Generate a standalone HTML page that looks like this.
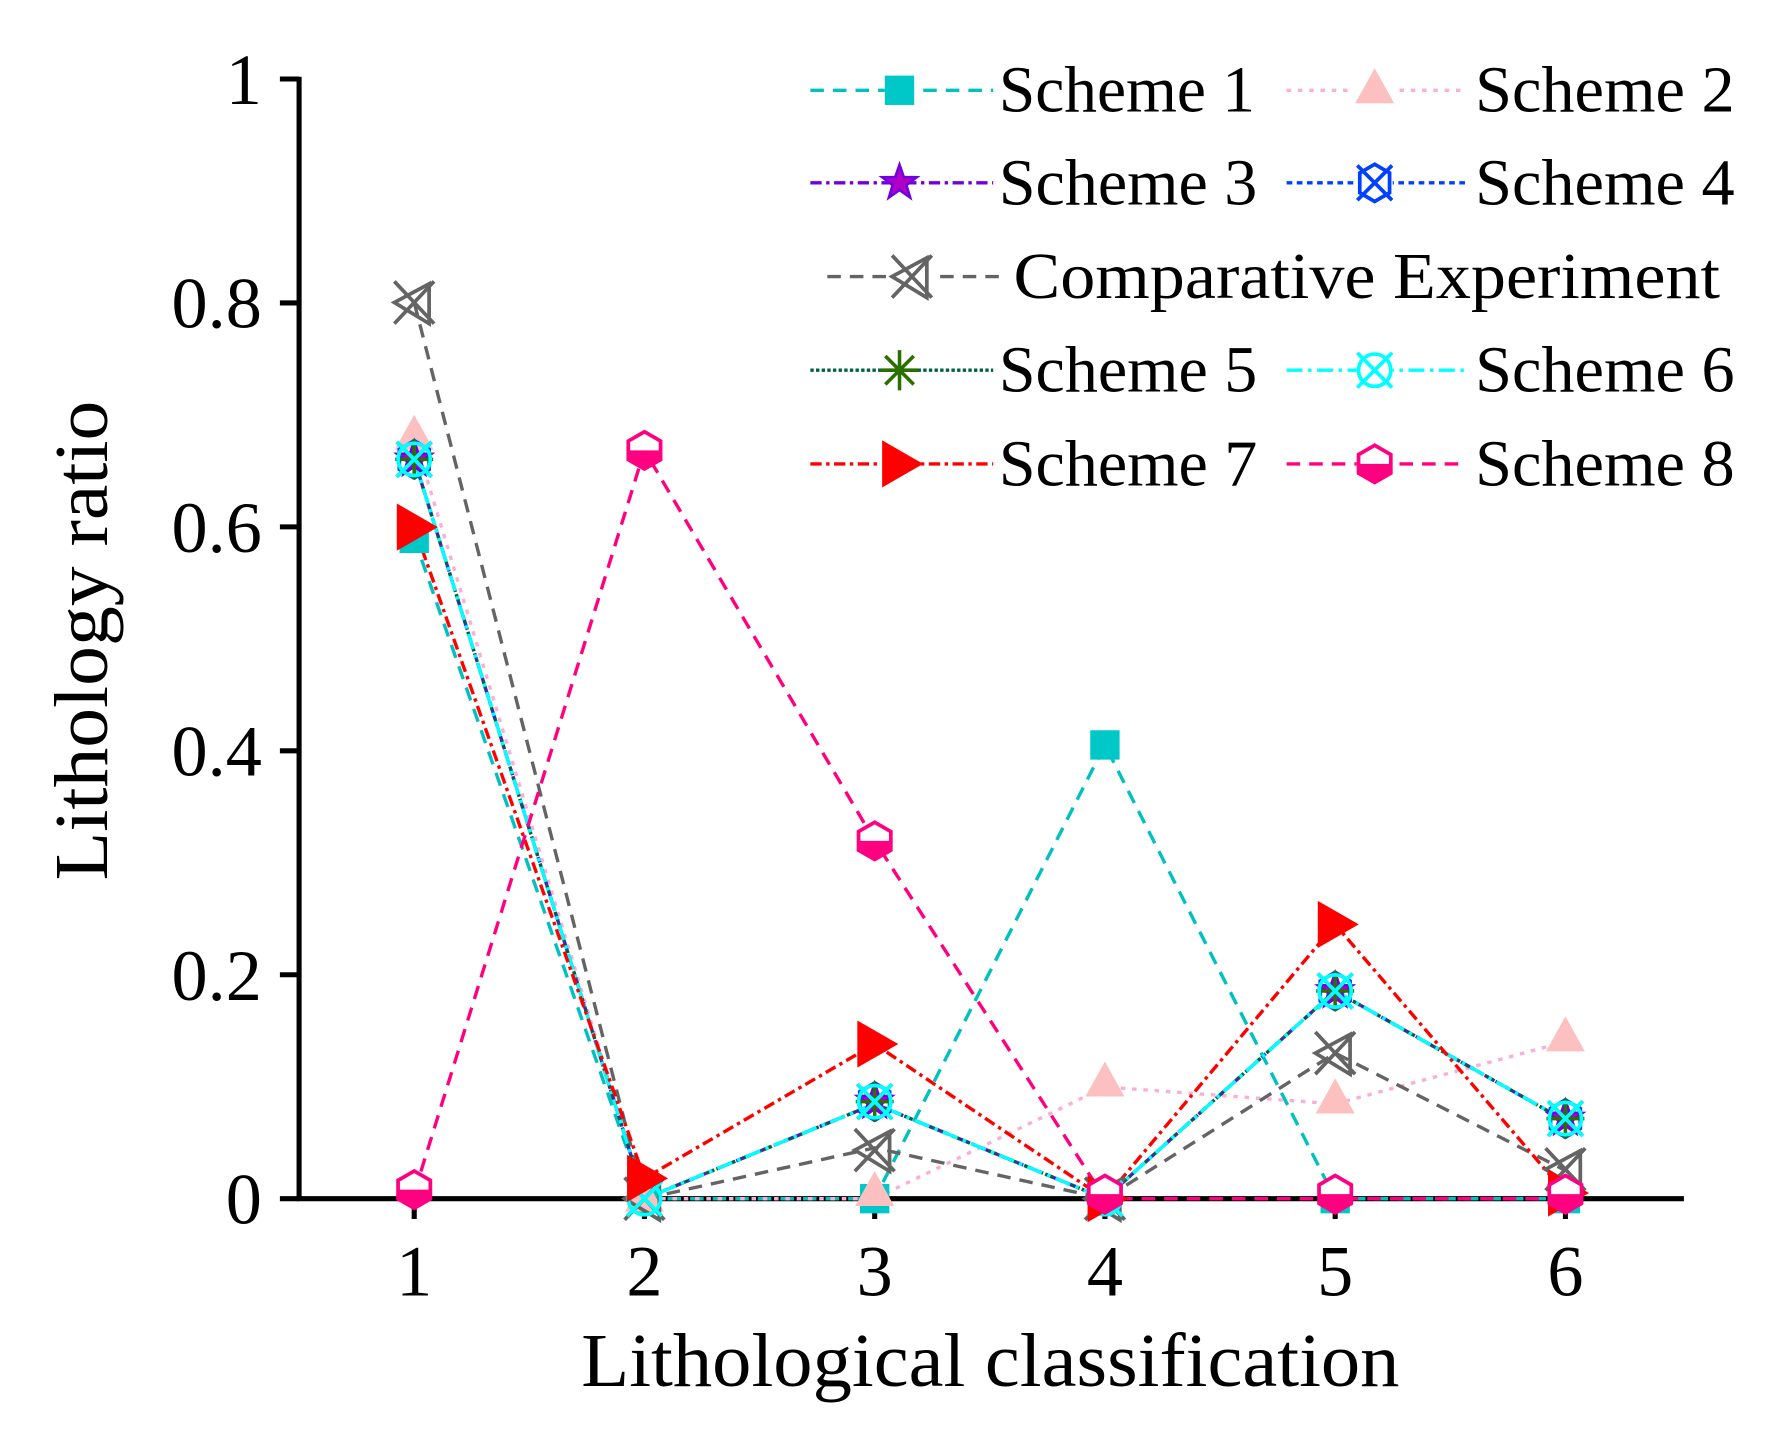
<!DOCTYPE html>
<html><head><meta charset="utf-8"><style>html,body{margin:0;padding:0;background:#fff}svg{display:block}</style></head>
<body>
<svg width="1768" height="1440" viewBox="0 0 1566.5 1275.8" preserveAspectRatio="none" xmlns="http://www.w3.org/2000/svg" font-family="Liberation Serif, serif">
<defs>
<g id="sq"><rect x="-13" y="-13" width="26" height="26" fill="#00c8c8"/></g>
<g id="tu" transform="scale(1.15)"><polygon points="0,-17 15,10 -15,10" fill="#fcc0c0"/></g>
<g id="st" transform="scale(1.15)"><polygon points="0,-14 3.3,-4.5 13.3,-4.3 5.3,1.7 8.2,11.3 0,5.6 -8.2,11.3 -5.3,1.7 -13.3,-4.3 -3.3,-4.5" fill="#b000c8" stroke="#7000e0" stroke-width="2"/></g>
<g id="c4" transform="scale(1.1)"><polygon points="0,-15 12,-8 12,8 0,15 -12,8 -12,-8" fill="none" stroke="#0040ff" stroke-width="3"/><path d="M-14,-14L14,14M14,-14L-14,14" stroke="#0040ff" stroke-width="3"/></g>
<g id="ce" transform="scale(1.1)"><path d="M-16,-17L16,17M16,-17L-16,17M-16,0L12,-15L12,17Z" fill="none" stroke="#646464" stroke-width="3"/></g>
<g id="as" transform="scale(1.05)"><path d="M-16,0H16M0,-17V17M-12,-12L12,12M12,-12L-12,12" stroke="#2a7000" stroke-width="3"/></g>
<g id="c6" transform="scale(1.1)"><circle r="13" fill="none" stroke="#00ffff" stroke-width="3"/><path d="M-14,-14L14,14M14,-14L-14,14" stroke="#00ffff" stroke-width="3"/></g>
<g id="tr" transform="scale(1.1)"><polygon points="-14,-19 19,0 -14,19" fill="#ff0000"/></g>
<g id="hx" transform="scale(1.1)"><polygon points="0,-15 13,-7.5 13,7.5 0,15 -13,7.5 -13,-7.5" fill="#fff" stroke="#ff0080" stroke-width="3"/><polygon points="-13,0 13,0 13,7.5 0,15 -13,7.5" fill="#ff0080"/></g>
</defs>

<g stroke="#000" stroke-width="4.5" fill="none">
<path d="M265,68V1062H1492"/>
<path d="M248,70H265M248,268.4H265M248,466.8H265M248,665.2H265M248,863.6H265M248,1062H265"/>
<path d="M367,1062V1080M571,1062V1080M775,1062V1080M979,1062V1080M1183,1062V1080M1387,1062V1080"/>
</g>
<g font-size="64" text-anchor="end" fill="#000">
<text x="232" y="92">1</text>
<text x="232" y="290">0.8</text>
<text x="232" y="489">0.6</text>
<text x="232" y="687">0.4</text>
<text x="232" y="886">0.2</text>
<text x="232" y="1084">0</text>
</g>
<g font-size="64" text-anchor="middle" fill="#000">
<text x="367" y="1148">1</text><text x="571" y="1148">2</text><text x="775" y="1148">3</text>
<text x="979" y="1148">4</text><text x="1183" y="1148">5</text><text x="1387" y="1148">6</text>
</g>
<text x="515" y="1228" font-size="68" textLength="725" lengthAdjust="spacingAndGlyphs">Lithological classification</text>
<text transform="translate(95,780) rotate(-90)" font-size="68" textLength="425" lengthAdjust="spacingAndGlyphs">Lithology ratio</text>

<g fill="none" stroke-width="3">
<polyline stroke="#00c0c0" stroke-dasharray="12,8" points="367,477 571,1062 775,1062 979,660 1183,1062 1387,1062"/>
<polyline stroke="#f9b0d8" stroke-dasharray="4,6" points="367,387 571,1062 775,1062 979,963 1183,978 1387,923"/>
<polyline stroke="#646464" stroke-dasharray="12,8" points="367,268 571,1062 775,1017 979,1062 1183,933 1387,1037"/>
<polyline stroke="#7000e0" stroke-dasharray="10,4,3,4" points="367,407 571,1062 775,978 979,1062 1183,878 1387,993"/>
<polyline stroke="#0040ff" stroke-dasharray="5,4" points="367,407 571,1062 775,978 979,1062 1183,878 1387,993"/>
<polyline stroke="#006040" stroke-dasharray="3,2" points="367,407 571,1062 775,978 979,1062 1183,878 1387,993"/>
<polyline stroke="#00ffff" stroke-dasharray="14,5,3,5" points="367,407 571,1062 775,978 979,1062 1183,878 1387,993"/>
<polyline stroke="#ff0000" stroke-dasharray="10,4,3,4" points="367,467 571,1044 775,925 979,1062 1183,819 1387,1057"/>
<polyline stroke="#ff0080" stroke-dasharray="12,8" points="367,1057 571,399 775,745 979,1062 1183,1062 1387,1062"/>
</g>
<use href="#sq" x="367" y="477"/><use href="#sq" x="571" y="1062"/><use href="#sq" x="775" y="1062"/><use href="#sq" x="979" y="660"/><use href="#sq" x="1183" y="1062"/><use href="#sq" x="1387" y="1062"/>
<use href="#tu" x="367" y="387"/><use href="#tu" x="571" y="1062"/><use href="#tu" x="775" y="1057"/><use href="#tu" x="979" y="960"/><use href="#tu" x="1183" y="975"/><use href="#tu" x="1387" y="920"/>
<use href="#ce" x="367" y="268"/><use href="#ce" x="571" y="1062"/><use href="#ce" x="775" y="1019"/><use href="#ce" x="979" y="1062"/><use href="#ce" x="1183" y="933"/><use href="#ce" x="1387" y="1036"/>
<g>
<use href="#st" x="367" y="407"/><use href="#c4" x="367" y="407"/><use href="#as" x="367" y="407"/><use href="#c6" x="367" y="407"/>
<use href="#st" x="775" y="976"/><use href="#c4" x="775" y="976"/><use href="#as" x="775" y="976"/><use href="#c6" x="775" y="976"/>
<use href="#st" x="1183" y="878"/><use href="#c4" x="1183" y="878"/><use href="#as" x="1183" y="878"/><use href="#c6" x="1183" y="878"/>
<use href="#st" x="1387" y="991"/><use href="#c4" x="1387" y="991"/><use href="#as" x="1387" y="991"/><use href="#c6" x="1387" y="991"/>
<use href="#c6" x="571" y="1062"/><use href="#c6" x="979" y="1062"/>
</g>
<use href="#tr" x="367" y="467"/><use href="#tr" x="571" y="1044"/><use href="#tr" x="775" y="925"/><use href="#tr" x="979" y="1062"/><use href="#tr" x="1183" y="819"/><use href="#tr" x="1387" y="1057"/>
<use href="#hx" x="367" y="1054"/><use href="#hx" x="571" y="399"/><use href="#hx" x="775" y="745"/><use href="#hx" x="979" y="1058"/><use href="#hx" x="1183" y="1058"/><use href="#hx" x="1387" y="1058"/>

<g fill="none" stroke-width="3">
<path d="M718,80H880" stroke="#00c0c0" stroke-dasharray="12,8"/>
<path d="M1140,80H1300" stroke="#f9b0d8" stroke-dasharray="4,6"/>
<path d="M718,162H880" stroke="#7000e0" stroke-dasharray="10,4,3,4"/>
<path d="M1140,162H1300" stroke="#0040ff" stroke-dasharray="5,4"/>
<path d="M733,245H885" stroke="#646464" stroke-dasharray="12,8"/>
<path d="M718,328H880" stroke="#006040" stroke-dasharray="3,2"/>
<path d="M1140,328H1300" stroke="#00ffff" stroke-dasharray="14,5,3,5"/>
<path d="M718,411H880" stroke="#ff0000" stroke-dasharray="10,4,3,4"/>
<path d="M1140,411H1300" stroke="#ff0080" stroke-dasharray="12,8"/>
</g>
<rect x="784" y="67" width="26" height="26" fill="#fff"/><use href="#sq" x="797" y="80"/>
<rect x="1198" y="61" width="40" height="36" fill="#fff"/><use href="#tu" x="1218" y="80"/>
<use href="#st" x="797" y="162"/>
<rect x="1202" y="146" width="32" height="32" fill="#fff"/><use href="#c4" x="1218" y="162"/>
<rect x="788" y="226" width="40" height="38" fill="#fff"/><use href="#ce" x="808" y="245"/>
<use href="#as" x="797" y="328"/>
<rect x="1202" y="312" width="32" height="32" fill="#fff"/><use href="#c6" x="1218" y="328"/>
<rect x="778" y="390" width="38" height="42" fill="#fff"/><use href="#tr" x="797" y="411"/>
<rect x="1202" y="394" width="32" height="34" fill="#fff"/><use href="#hx" x="1218" y="411"/>
<g font-size="58" fill="#000">
<text x="885" y="99" textLength="227" lengthAdjust="spacingAndGlyphs">Scheme 1</text>
<text x="1307" y="99" textLength="230" lengthAdjust="spacingAndGlyphs">Scheme 2</text>
<text x="885" y="181" textLength="229" lengthAdjust="spacingAndGlyphs">Scheme 3</text>
<text x="1307" y="181" textLength="230" lengthAdjust="spacingAndGlyphs">Scheme 4</text>
<text x="898" y="264" textLength="626" lengthAdjust="spacingAndGlyphs">Comparative Experiment</text>
<text x="885" y="347" textLength="229" lengthAdjust="spacingAndGlyphs">Scheme 5</text>
<text x="1307" y="347" textLength="230" lengthAdjust="spacingAndGlyphs">Scheme 6</text>
<text x="885" y="430" textLength="229" lengthAdjust="spacingAndGlyphs">Scheme 7</text>
<text x="1307" y="430" textLength="230" lengthAdjust="spacingAndGlyphs">Scheme 8</text>
</g>
</svg>
</body></html>
